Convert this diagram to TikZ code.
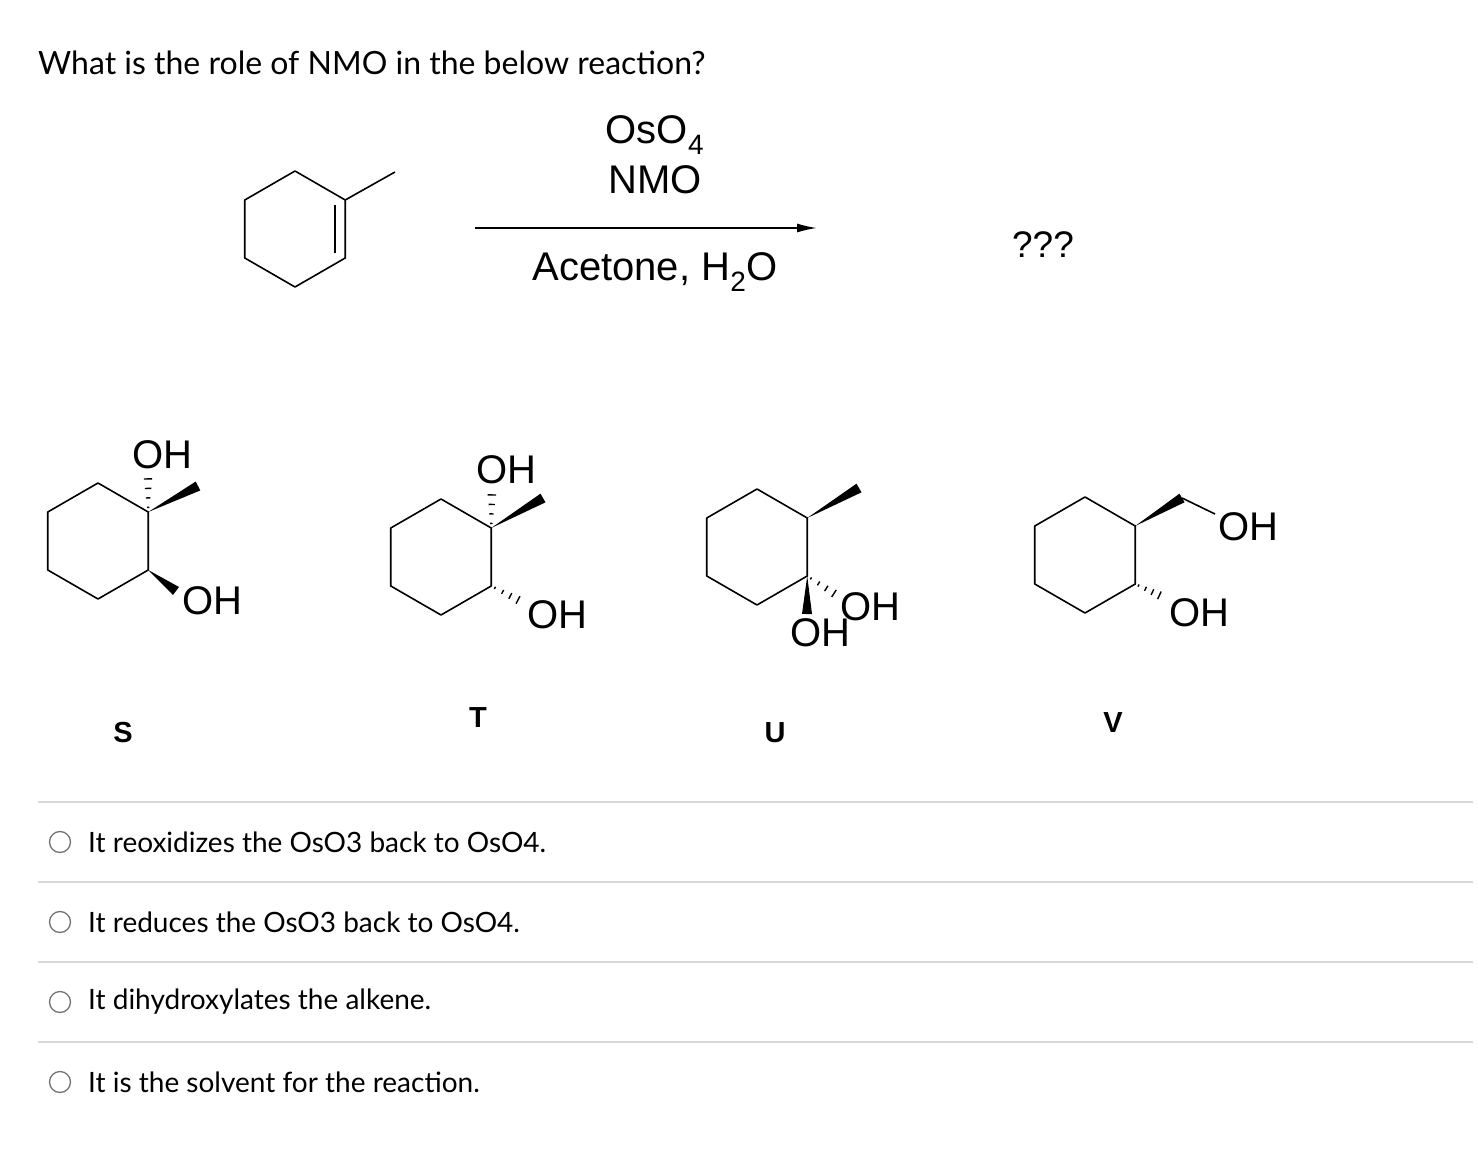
\documentclass[tikz,border=0pt]{standalone}
\usepackage{fontspec}
\setmainfont{Lato}
\newfontfamily\chem{Liberation Sans}
\usetikzlibrary{calc,arrows.meta}
\tikzset{
 bond/.style={line width=1.6pt,line join=round},
 chemlbl/.style={font=\chem\fontsize{40}{40}\selectfont,inner sep=0pt},
 letter/.style={font=\chem\bfseries\fontsize{29}{29}\selectfont,inner sep=0pt},
 txt/.style={font=\fontsize{28}{28}\selectfont,anchor=west,inner sep=0pt},
 rule/.style={draw=black!15,line width=1.2pt},
 radio/.style={draw=black!55,line width=1.3pt,circle,minimum size=21pt,inner sep=0pt}
}
\newcommand{\hexring}[3]{% name, cx, cy
 \foreach \a/\i in {90/1,30/2,-30/3,-90/4,-150/5,150/6}{\coordinate (#1\i) at ($(#2,#3)+(\a:58 and -58)$);}
 \draw[bond] (#11)--(#12)--(#13)--(#14)--(#15)--(#16)--cycle;}
\newcommand{\wedgeb}[2]{\fill ($(#1)$) -- ($(#2)!5pt!90:(#1)$) -- ($(#2)!5pt!-90:(#1)$) -- cycle;}
\newcommand{\hashc}[2]{\foreach \t/\w in {0.12/1.2,0.37/2.2,0.62/3.2,0.87/4.2}{
 \draw[line width=1.4pt] ($($(#1)!\t!(#2)$)!\w pt!90:(#2)$) -- ($($(#1)!\t!(#2)$)!\w pt!-90:(#2)$);}}
\begin{document}
\begin{tikzpicture}[x=1pt,y=-1pt]
\useasboundingbox (0,0) rectangle (1478,1158);
\node[txt,font=\fontsize{32}{32}\selectfont] (title) at (38,63) {What is the role of NMO in the below reaction?};
% starting material
\hexring{A}{295}{229}
\draw[bond] ($(A2)+(-10,5)$) -- ($(A3)+(-10,-5)$);
\coordinate (Am) at (395,172);
\draw[bond] (A2) -- (Am);
\coordinate (arA) at (475,228); \coordinate (arB) at (817,228);
\draw[line width=1.6pt,-{Latex[length=20pt,width=9pt]}] (arA) -- (arB);
\node[chemlbl] (os) at (655,135) {OsO\textsubscript{4}};
\node[chemlbl] (nmo) at (655,180) {NMO};
\node[chemlbl] (ac) at (655,272) {Acetone, H\textsubscript{2}O};
\node[font=\chem\fontsize{37}{37}\selectfont,inner sep=0pt] (q) at (1043,245) {???};
% S
\hexring{S}{98}{541}
\node[chemlbl] (Soh1) at (162,455) {OH};
\coordinate (Sh) at (148,474); \hashc{S2}{Sh}
\coordinate (Sm) at (198,486); \wedgeb{S2}{Sm}
\coordinate (Sw) at (176,591); \wedgeb{S3}{Sw}
\node[chemlbl] (Soh2) at (212,601) {OH};
\node[letter] (Sl) at (123,733) {S};
% T
\hexring{T}{441}{557}
\node[chemlbl] (Toh1) at (506,470) {OH};
\coordinate (Th) at (492,490); \hashc{T2}{Th}
\coordinate (Tm) at (543,498); \wedgeb{T2}{Tm}
\coordinate (Th2) at (522,602); \hashc{T3}{Th2}
\node[chemlbl] (Toh2) at (557,615) {OH};
\node[letter] (Tl) at (478,718) {T};
% U
\hexring{U}{757}{547}
\coordinate (Um) at (859,488); \wedgeb{U2}{Um}
\coordinate (Uw) at (807,614); \wedgeb{U3}{Uw}
\coordinate (Uh) at (838,596); \hashc{U3}{Uh}
\node[chemlbl] (Uoh1) at (870,607) {OH};
\node[chemlbl] (Uoh2) at (820,633) {OH};
\node[letter] (Ul) at (775,733) {U};
% V
\hexring{V}{1085}{555}
\coordinate (Vm) at (1182,498); \wedgeb{V2}{Vm}
\coordinate (Vo) at (1215,514); \draw[bond] (Vm) -- (Vo);
\node[chemlbl] (Voh1) at (1248,527) {OH};
\coordinate (Vh) at (1163,597); \hashc{V3}{Vh}
\node[chemlbl] (Voh2) at (1199,613) {OH};
\node[letter] (Vl) at (1113,723) {V};
% answers
\foreach \y/\n in {802/r1,882/r2,962/r3,1042/r4}{\coordinate (\n a) at (38,\y); \coordinate (\n b) at (1473,\y); \draw[rule] (\n a) -- (\n b);}
\node[radio] (c1) at (60,842) {}; \node[txt] (t1) at (88,842) {It reoxidizes the OsO3 back to OsO4.};
\node[radio] (c2) at (60,922) {}; \node[txt] (t2) at (88,922) {It reduces the OsO3 back to OsO4.};
\node[radio] (c3) at (60,1002) {}; \node[txt] (t3) at (88,1002) {It dihydroxylates the alkene.};
\node[radio] (c4) at (60,1082) {}; \node[txt] (t4) at (88,1082) {It is the solvent for the reaction.};
\end{tikzpicture}
\end{document}
